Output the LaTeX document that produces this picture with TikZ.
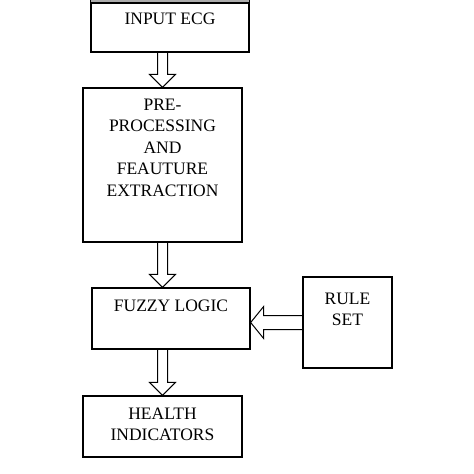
\documentclass[tikz,border=0pt]{standalone}
\usepackage{fontspec}
\setmainfont{Liberation Serif}
\usetikzlibrary{calc}
\tikzset{
	blockbox/.style={draw, line width=1.3pt, inner sep=0pt},
	boxtext/.style={anchor=north, inner sep=0pt, align=center,
		font=\fontsize{17.5}{21.5}\selectfont},
	blockarrow/.style={draw, line width=1pt, line join=miter}
}
% hollow block arrows, drawn from one named point to another
\newcommand{\vblockarrow}[2]{%
	\draw[blockarrow] let \p1=(#1), \p2=(#2) in
		(\x1-5pt,\y1) -- (\x1-5pt,\y2+13pt) -- (\x1-13pt,\y2+13pt) -- (\x2,\y2)
		-- (\x1+13pt,\y2+13pt) -- (\x1+5pt,\y2+13pt) -- (\x1+5pt,\y1);}
\newcommand{\hblockarrow}[2]{%
	\draw[blockarrow] let \p1=(#1), \p2=(#2) in
		(\x1,\y1-7pt) -- (\x2+13pt,\y1-7pt) -- (\x2+13pt,\y1-16pt) -- (\x2,\y2)
		-- (\x2+13pt,\y1+16pt) -- (\x2+13pt,\y1+7pt) -- (\x1,\y1+7pt);}
\begin{document}
\begin{tikzpicture}[x=1pt, y=-1pt]
	\useasboundingbox (0,0) rectangle (474,474);
	% boxes
	\node[blockbox, minimum width=158pt, minimum height=49pt,
		label={[boxtext, yshift=-10pt]north:INPUT ECG}] (input) at (170,27.5) {};
	\node[blockbox, minimum width=159pt, minimum height=154pt,
		label={[boxtext, yshift=-11pt]north:PRE-\\PROCESSING\\AND\\FEAUTURE\\EXTRACTION}] (pre) at (162.5,165) {};
	\node[blockbox, minimum width=158pt, minimum height=61pt,
		label={[boxtext, yshift=-12pt]north:FUZZY LOGIC}] (fuzzy) at (171,318.5) {};
	\node[blockbox, minimum width=89pt, minimum height=91pt,
		label={[boxtext, yshift=-16pt]north:RULE\\SET}] (rule) at (347.5,322.5) {};
	\node[blockbox, minimum width=159pt, minimum height=61pt,
		label={[boxtext, yshift=-12pt]north:HEALTH\\INDICATORS}] (health) at (162.5,426.5) {};
	% grey strip above the first box
	\fill[gray!65] (input.north west) rectangle (input.north east |- 0,0);
	\draw[line width=1.3pt] (input.north west) -- (input.north west |- 0,0)
		(input.north east) -- (input.north east |- 0,0);
	% arrows
	\vblockarrow{input.south -| pre.north}{pre.north}
	\vblockarrow{pre.south}{pre.south |- fuzzy.north}
	\vblockarrow{fuzzy.south -| health.north}{health.north}
	\hblockarrow{rule.west}{rule.west -| fuzzy.east}
\end{tikzpicture}
\end{document}
